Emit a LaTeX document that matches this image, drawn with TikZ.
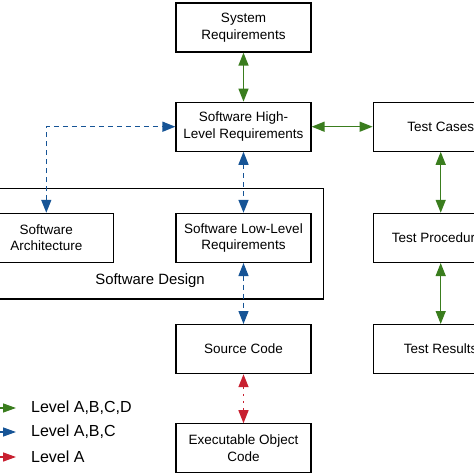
\documentclass[tikz,border=0pt]{standalone}
\usepackage{fontspec}
\setmainfont{Liberation Sans}
\usetikzlibrary{positioning,arrows.meta}
\definecolor{levelgreen}{RGB}{58,125,30}
\definecolor{levelblue}{RGB}{22,84,150}
\definecolor{levelred}{RGB}{200,32,48}
\tikzset{
  box/.style={draw, line width=1.2pt, minimum width=135pt, minimum height=49pt,
    align=center, inner sep=2pt, font=\fontsize{13.5}{16.5}\selectfont},
  link/.style={line width=1.4pt, {Triangle[length=13pt,width=10pt]}-{Triangle[length=13pt,width=10pt]}},
  linkA/.style={link, levelred, dash pattern=on 2pt off 5pt},
  linkABC/.style={link, levelblue, dash pattern=on 5pt off 4pt},
  linkABCD/.style={link, levelgreen},
  keyarrow/.style={line width=1.4pt, -{Triangle[length=13pt,width=9pt]}},
  keytext/.style={anchor=west, inner sep=0pt, font=\fontsize{16}{19}\selectfont}
}
\begin{document}
\begin{tikzpicture}[x=1pt, y=-1pt, node distance=61pt]
    \useasboundingbox (0,0) rectangle (474,474);
    \clip (0,0) rectangle (474,474);

    \node[box] (sysreq) at (243.5,27.5) {System\\Requirements};
    \node[box] (hlr) [below=49pt of sysreq] {Software High-\\Level Requirements};
    \node[box] (llr) [below=of hlr] {Software Low-Level\\Requirements};
    \node[box] (arch) [left=of llr] {Software\\Architecture};
    \node[box] (src) [below=of llr] {Source Code};
    \node[box] (eoc) [below=49pt of src] {Executable Object\\Code};
    \node[box] (tcases) [right=of hlr] {Test Cases};
    \node[box] (tproc) [below=of tcases] {Test Procedures};
    \node[box] (tres) [below=of tproc] {Test Results};

    % software design group
    \draw[line width=1.2pt] ([xshift=-12pt,yshift=24pt]arch.north west)
      rectangle ([xshift=12pt,yshift=-36pt]llr.south east);
    \node[font=\fontsize{14.9}{18}\selectfont] (design) at (150,281) {Software Design};

    \draw[linkABCD] (sysreq) -- (hlr);
    \draw[linkABCD] (hlr) -- (tcases);
    \draw[linkABCD] (tcases) -- (tproc);
    \draw[linkABCD] (tproc) -- (tres);
    \draw[linkABC] (arch.north) |- (hlr.west);
    \draw[linkABC] (hlr) -- (llr);
    \draw[linkABC] (llr) -- (src);
    \draw[linkA] (src) -- (eoc);

    % legend
    \node[keytext] (keyABCD) at (31,408) {Level A,B,C,D};
    \node[keytext] (keyABC) at (31,432) {Level A,B,C};
    \node[keytext] (keyA) at (31,457) {Level A};
    \coordinate (startABCD) at (-6,408);
    \coordinate (startABC) at (-6,432);
    \coordinate (startA) at (-6,457);
    \draw[keyarrow, levelgreen] (startABCD) -- ([xshift=-15pt]keyABCD.west);
    \draw[keyarrow, levelblue] (startABC) -- ([xshift=-15pt]keyABC.west);
    \draw[keyarrow, levelred] (startA) -- ([xshift=-15pt]keyA.west);
\end{tikzpicture}
\end{document}
